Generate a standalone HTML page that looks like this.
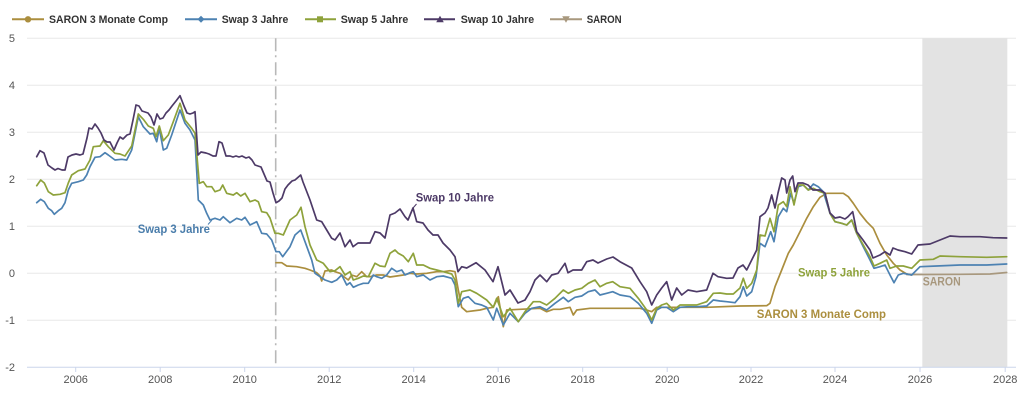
<!DOCTYPE html>
<html>
<head>
<meta charset="utf-8">
<style>
  html,body{margin:0;padding:0;background:#fff;}
  svg{display:block;}
  text{font-family:"Liberation Sans","DejaVu Sans",sans-serif;}
</style>
</head>
<body>
<svg width="1024" height="415" viewBox="0 0 1024 415" xmlns="http://www.w3.org/2000/svg">
  <rect x="0" y="0" width="1024" height="415" fill="#ffffff"/>

  <!-- grid lines -->
  <g stroke="#e8e8e8" stroke-width="1">
    <line x1="27" y1="38.3" x2="1016" y2="38.3"/>
    <line x1="27" y1="85.3" x2="1016" y2="85.3"/>
    <line x1="27" y1="132.3" x2="1016" y2="132.3"/>
    <line x1="27" y1="179.3" x2="1016" y2="179.3"/>
    <line x1="27" y1="226.3" x2="1016" y2="226.3"/>
    <line x1="27" y1="273.3" x2="1016" y2="273.3"/>
    <line x1="27" y1="320.3" x2="1016" y2="320.3"/>
  </g>

  <!-- forecast band -->
  <rect x="922.3" y="38.3" width="85" height="329" fill="#e3e3e3"/>

  <!-- x axis -->
  <line x1="27" y1="367.3" x2="1016" y2="367.3" stroke="#ccd6eb" stroke-width="1"/>
  <g stroke="#ccd6eb" stroke-width="1">
    <line x1="75.7" y1="367.3" x2="75.7" y2="372"/>
    <line x1="160.2" y1="367.3" x2="160.2" y2="372"/>
    <line x1="244.7" y1="367.3" x2="244.7" y2="372"/>
    <line x1="329.2" y1="367.3" x2="329.2" y2="372"/>
    <line x1="413.7" y1="367.3" x2="413.7" y2="372"/>
    <line x1="498.2" y1="367.3" x2="498.2" y2="372"/>
    <line x1="582.7" y1="367.3" x2="582.7" y2="372"/>
    <line x1="667.2" y1="367.3" x2="667.2" y2="372"/>
    <line x1="751" y1="367.3" x2="751" y2="372"/>
    <line x1="835" y1="367.3" x2="835" y2="372"/>
    <line x1="920" y1="367.3" x2="920" y2="372"/>
    <line x1="1005.2" y1="367.3" x2="1005.2" y2="372"/>
  </g>

  <!-- dashed vertical marker -->
  <line x1="275.7" y1="38.3" x2="275.7" y2="367" stroke="#b8b8b8" stroke-width="1.6" stroke-dasharray="13 4 2 5"/>

  <!-- y labels -->
  <g font-size="11" fill="#555" text-anchor="end">
    <text x="15" y="42">5</text>
    <text x="15" y="89">4</text>
    <text x="15" y="136">3</text>
    <text x="15" y="183">2</text>
    <text x="15" y="230">1</text>
    <text x="15" y="277">0</text>
    <text x="15" y="324">-1</text>
    <text x="15" y="371">-2</text>
  </g>

  <!-- x labels -->
  <g font-size="11" fill="#555" text-anchor="middle">
    <text x="75.7" y="383">2006</text>
    <text x="160.2" y="383">2008</text>
    <text x="244.7" y="383">2010</text>
    <text x="329.2" y="383">2012</text>
    <text x="413.7" y="383">2014</text>
    <text x="498.2" y="383">2016</text>
    <text x="582.7" y="383">2018</text>
    <text x="667.2" y="383">2020</text>
    <text x="751" y="383">2022</text>
    <text x="835" y="383">2024</text>
    <text x="920" y="383">2026</text>
    <text x="1005.2" y="383">2028</text>
  </g>

  <!-- series -->
  <g fill="none" stroke-width="1.7" stroke-linejoin="round" stroke-linecap="round">
    <!-- SARON 3 Monate Comp -->
    <polyline stroke="#ab8e3e" points="276,262.7 281.7,262.7 286.7,266 296.7,266.7 305,268.3 310,270 316.7,272.7 320,276 321.7,281 325,271 331.7,270 335,271.7 340,273.3 343,276 348.3,280 351.7,275 356.7,276.7 361.7,271.7 366.7,276.7 370,276.7 376.7,275 383.3,275 390,277 396.7,276 403.3,275 410,273.3 416.7,274 426.7,273.3 436.7,271.7 443.3,271.7 450,270.7 455,271.7 458.3,290 461.7,307.3 466.7,311.7 480,310 486.7,308.3 493.3,307.3 498.3,296.7 503.3,326.7 506.7,310 520,309.3 540,308.3 546.7,311.7 553.3,309.3 560,309.3 570,307.3 573.3,315 576.7,310 590,308.3 640,308.3 646.7,310 651.7,311.7 656.7,307.3 706.7,307.3 740,306 766.7,305.7 770,303.3 775,286.7 781.7,270 788.3,253.3 793.3,245 800,231.7 806.7,218.3 813.3,206.7 820,197.3 826.7,193.3 843.3,193.3 848.3,196.7 853.3,203.3 860,213.3 866.7,221.7 873.3,228.3 880,243.3 886.7,255 893.3,263.3 900,270 906.7,274 911.7,275"/>
    <!-- SARON -->
    <polyline stroke="#a8987e" points="906.7,274.5 920,274.5 960,274.3 990,274 1006.7,272.5"/>
    <!-- Swap 3 Jahre -->
    <polyline stroke="#4d82b2" points="36.7,202.7 40.7,199.3 44.3,201.7 48.3,208.3 51.7,210.7 54.3,214.3 58.3,210.7 61.7,208.3 65,202.7 68.3,190 71.7,183.3 78.3,181.7 83.3,180 86.7,175 90,166.7 95,157.3 100,156.7 105,152.7 108.3,155 115,160 121.7,159.3 126.7,160 131.7,150 138.3,116.7 143.3,126.7 150,134 153.3,133.3 156.7,141.7 159.3,128.3 163.3,150 166.7,148.3 171.7,135 180,110 185,123.3 190,130 195,140 198.3,200 203.3,205 206.7,213.3 210,220 215,218.3 220,220 223.3,216.7 230,222.7 236.7,218.3 241.7,220 245,217.3 250,225 256.7,221.7 261.7,233.3 266.7,234 271.7,240 276,251.7 279.3,251.7 282.7,256.7 290,246.7 295,235 300.7,230 305,241.7 311.7,260 315,273.3 320,276.7 325,280 331.7,282.3 336.7,280 341.7,275 346.7,285 350,282.7 353.3,287.3 358.3,285 363.3,283.3 368.3,283.3 373.3,275 376.7,276.7 381.7,278.3 386.7,275 391.7,268.3 396.7,271.7 401.7,270 405,275 410,272.7 413.3,271.7 416.7,276.7 423.3,275 430,280 436.7,276.7 443.3,276 451.7,278.3 455,285 458.3,306.7 463.3,298.3 468.3,296.7 475,303.3 481.7,305 486.7,307.3 493.3,320 496.7,308.3 503.3,325 510,313.3 518.3,321.7 525,313.3 531.7,308.3 540,306.7 546.7,310 555,303.3 563.3,297.3 568.3,301.7 575,297.3 581.7,296 588.3,291.7 595,290 600,295 606.7,293.3 612.7,291.7 620,295 630,296.7 638.3,303.3 646.7,313.3 651.7,323.3 656.7,310 661.7,307.3 666.7,307.3 673.3,311.7 680,307.3 688.3,306.7 696.7,306.7 706.7,306 713.3,300 720,301 726.7,301.7 735,302.7 740,296.7 743.3,286.7 746.7,296 751.7,291.7 756,276.7 760,243.3 765,246.7 770.7,231.7 774,241.7 778.3,216.7 783.3,208.3 786.7,211.7 790.7,193.3 794,203.3 798.3,186.7 803.3,185 808.3,190 813.3,184 818.3,186.7 823.3,191.7 830,213.3 835,221.7 841.7,223.3 846.7,225 851.7,220 856.7,233.3 863.3,246.7 870,260 874,268.3 880,266.7 885,265 890,275 894,282.7 898.3,275 903.3,273.3 911.7,275 920,266.7 936.7,266 960,265 986.7,265 1006.7,264"/>
    <!-- Swap 5 Jahre -->
    <polyline stroke="#8ea23b" points="36.7,185.7 40.7,180 44.3,183 48.3,191.7 53.3,195 60,194.3 65,192.7 68.3,183 71.7,175 78.3,170.7 85,169 90,160 93.3,146.7 100,146 103.3,140.7 108.3,146.7 115,153.3 120,154 125,156 131.7,146 138.3,114 143.3,119.3 148.3,126 153.3,128.3 156,136.7 159.3,126 163.3,140.7 168.3,135 173.3,121.7 180,103.3 185,120 191.7,128.3 195,133.3 199.3,183.3 203.3,181.7 206.7,186.7 211.7,186.7 215,191.7 220,190 222.7,185 226.7,193.3 233.3,195 236.7,192.7 240.7,196 245,193.3 250,201.7 255,200 258.3,201.7 261.7,211.7 266.7,212.7 270,218 275,233.3 278.3,233.3 283.3,235 290,220 296.7,215 301,207.3 305,226.7 310,245 316.7,260 323.3,263.3 330,271.7 335,270.7 340,266.7 345,275 350,271.7 353.3,280 358.3,278.3 363.3,276 368.3,276.7 375,263.3 380,266 385,266.7 390,253.3 395,250 398.3,253.3 403.3,256 408.3,261.7 413.3,253.3 416.7,265 423.3,265 430,268.3 436.7,270 443.3,271.7 451.7,274 455,280 458.3,303.3 461.7,291.7 470,290 476.7,293.3 486.7,300 493.3,307.3 496.7,298.3 503.3,316.7 510,308.3 518.3,321.7 525,311.7 533.3,301.7 540,301.7 546.7,305 555,298.3 563.3,290 568.3,293.3 575,290 581.7,288.3 588.3,283.3 595,280 600,286.7 606.7,283.3 612.7,281.7 620,286.7 630,288.3 638.3,298.3 646.7,310 651.7,320 656.7,308.3 661.7,305 666.7,303.3 673.3,310 680,305 688.3,305 696.7,305 706.7,301.7 713.3,293.3 720,293 726.7,294 733.3,294 740,288 743.3,278.3 746.7,288.3 751.7,283.3 756.7,270 760,235 765,236 770,218.3 774,231.7 778.3,205 783.3,201.7 786.7,206.7 790,186.7 794,205 798.3,185 803.3,185 808.3,190 813.3,188.3 820,191.7 825,193.3 830,213.3 835,221.7 841.7,223.3 846.7,225 851.7,220 856.7,233.3 863.3,245 870,256.7 874,266 880,263.3 886.7,260 890,268.3 896.7,266 903.3,266 911.7,268.3 920,260 933.3,259.3 940,256 960,256.7 986.7,257.3 1006.7,256.7"/>
    <!-- Swap 10 Jahre -->
    <polyline stroke="#4d3a67" points="36.7,156.7 40,150.7 44,153 48,165 52,168 55,170 58,168.5 62,170 65,170 68,157 72,155 76,154 80,155 83,154 87,138 89,128 92,129 95,124 98,128 101,133 104,140 107,142 110,142 114,150 117,143 120,137 123,139 127,135 130,134 133,120 136,105 139,106 142,111 145,112 148,113 151,117 154,125 157,114 160,119 163,118 166,113 169,110 172,106 176,101 180,95.7 184,106 187,113 190,114 193,113 195,111.7 198,155 201,152 206,153 209,154 213,156 216,156 219,141.7 222,143 226,156 230,156 233,157 236,156 239,157 242,156 246,158 249,157 252,160 255,165 258,166 261,167 264,174 267,181 270,182 273,193 276,202.7 279,201 282,198 285,189 288,185 292,181 295,180 300.7,175 303,182 310,200 316.7,220 321.7,221.7 326.7,230 331.7,238.3 335,240 340,233 345,246.7 350,240 353,246.7 358,243 370,243 375,231.7 380,233 385,238 390,215 395,213 400,209 405,216.7 408,220 413,208 416.7,221.7 423,223 428,230 433,235 438,235 443,243 450,250 455,256.7 458,271.7 461.7,266.7 466.7,268 476,262.7 485,270 493,281.7 498,266.7 505,295 510,290 518,303 525,300 530,291.7 535,280 540,275 546.7,281.7 551.7,275 558,273.3 565,263.3 568,272.7 573,270 581.7,270 586.7,261.7 593,260 598,263 606.7,259 613,257 620,261.7 631.7,268 640,281.7 646.7,291.7 651.7,305 656.7,295 661.7,288 666.7,281.7 671.7,300 676.7,288 681.7,295 688,290 696.7,291.7 706.7,290 713,273.3 718,276.7 726.7,278.3 733,278 738,268 743,265 746.7,270 751.7,260 756.7,250 760,216.7 765,213 768,208 771.7,195 775,208 778,193 781.7,178 785,180 786.7,193 790,180 792.7,176 795,191.7 798,183 803,183 808,185 813,190 820,190 825,193 830,213 835,218 840,217 845,219 848,216.7 852.7,211.7 856.7,231.7 863,240 870,250 873,258 880,255 885,251.7 890,255 893,248 898,250 905,251.7 911.7,254 918,245 930,244 940,240 950,236 960,236.7 980,236.7 993,237.7 1006.7,238"/>
  </g>

  <!-- series labels -->
  <g font-size="12" font-weight="bold">
    <line x1="208" y1="224.5" x2="212" y2="220" stroke="#4d82b2" stroke-width="1"/>
    <text x="137.7" y="233" fill="#4a7dab" textLength="72.3" lengthAdjust="spacingAndGlyphs">Swap 3 Jahre</text>
    <line x1="413" y1="208" x2="416.5" y2="204" stroke="#4d3a67" stroke-width="1"/>
    <text x="415.7" y="201.7" fill="#4d3a67" textLength="78.3" lengthAdjust="spacingAndGlyphs">Swap 10 Jahre</text>
    <text x="798" y="276.3" fill="#8ea23b" textLength="72" lengthAdjust="spacingAndGlyphs">Swap 5 Jahre</text>
    <text x="756.7" y="318" fill="#ab8e3e" textLength="129.3" lengthAdjust="spacingAndGlyphs">SARON 3 Monate Comp</text>
    <text x="922.7" y="285.7" fill="#a8987e" textLength="38" lengthAdjust="spacingAndGlyphs">SARON</text>
  </g>

  <!-- legend -->
  <g stroke-width="2">
    <line x1="12" y1="19.3" x2="44" y2="19.3" stroke="#ab8e3e"/>
    <circle cx="28" cy="19.3" r="3.2" fill="#ab8e3e" stroke="none"/>
    <line x1="185" y1="19.3" x2="217" y2="19.3" stroke="#4d82b2"/>
    <polygon points="201,15.8 204.5,19.3 201,22.8 197.5,19.3" fill="#4d82b2" stroke="none"/>
    <line x1="305" y1="19.3" x2="336" y2="19.3" stroke="#8ea23b"/>
    <rect x="317" y="16.3" width="6" height="6" fill="#8ea23b" stroke="none"/>
    <line x1="424" y1="19.3" x2="455" y2="19.3" stroke="#4d3a67"/>
    <polygon points="440,15.8 443.8,22.3 436.2,22.3" fill="#4d3a67" stroke="none"/>
    <line x1="550" y1="19.3" x2="582" y2="19.3" stroke="#a8987e"/>
    <polygon points="562.2,16.3 569.8,16.3 566,22.8" fill="#a8987e" stroke="none"/>
  </g>
  <g font-size="11" font-weight="bold" fill="#333">
    <text x="49" y="23.2" textLength="119" lengthAdjust="spacingAndGlyphs">SARON 3 Monate Comp</text>
    <text x="221.7" y="23.2" textLength="66.6" lengthAdjust="spacingAndGlyphs">Swap 3 Jahre</text>
    <text x="340.7" y="23.2" textLength="67.6" lengthAdjust="spacingAndGlyphs">Swap 5 Jahre</text>
    <text x="460.7" y="23.2" textLength="73.5" lengthAdjust="spacingAndGlyphs">Swap 10 Jahre</text>
    <text x="586.7" y="23.2" textLength="35" lengthAdjust="spacingAndGlyphs">SARON</text>
  </g>
</svg>
</body>
</html>
